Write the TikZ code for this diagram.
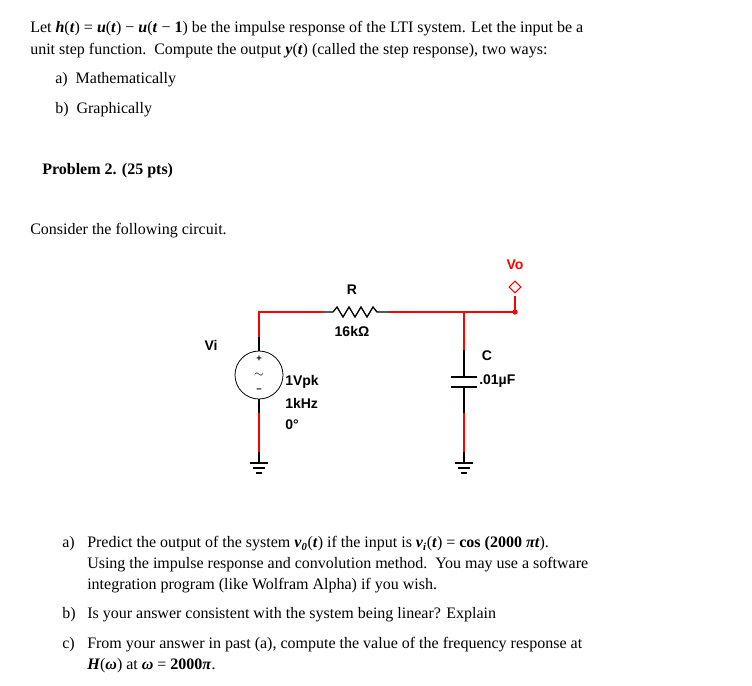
\documentclass[tikz,border=0pt]{standalone}
\usepackage{fontspec}
\usetikzlibrary{shapes.geometric}
\setmainfont{Liberation Serif}
\newfontfamily\cir{Liberation Sans}
\newcommand{\mb}[1]{\textbf{\textit{#1}}}
\begin{document}
\begin{tikzpicture}[x=0.75pt,y=-0.75pt,
  txt/.style={anchor=west,inner sep=0pt,font=\fontsize{12}{14}\selectfont},
  lab/.style={inner sep=0pt,font=\cir\bfseries\fontsize{10.5}{12}\selectfont},
  rw/.style={red,line width=1pt},
  bw/.style={black,line width=1pt}]
\useasboundingbox (0,0) rectangle (752,685);
\node[txt] (l1) at (30,29) {Let \mb{h}(\mb{t}) = \mb{u}(\mb{t}) − \mb{u}(\mb{t} − \textbf{1}) be the impulse response of the LTI system. Let the input be a};
\node[txt] (l2) at (30,51) {unit step function.\ \ Compute the output \mb{y}(\mb{t}) (called the step response), two ways:};
\node[txt] (pa) at (55,80) {a)\ \ Mathematically};
\node[txt] (pb) at (55,110) {b)\ \ Graphically};
\node[txt] (p2) at (42,171) {\textbf{Problem 2. (25 pts)}};
\node[txt] (cf) at (30,231) {Consider the following circuit.};
\node[txt] (qa) at (62,544) {a)};
\node[txt] (qa1) at (87,544) {Predict the output of the system \mb{v}\textsubscript{\mb{0}}(\mb{t}) if the input is \mb{v}\textsubscript{\mb{i}}(\mb{t}) = \textbf{cos (2000} \mb{πt}).};
\node[txt] (qa2) at (87,565) {Using the impulse response and convolution method.\ \ You may use a software};
\node[txt] (qa3) at (87,586) {integration program (like Wolfram Alpha) if you wish.};
\node[txt] (qb) at (62,615) {b)};
\node[txt] (qb1) at (87,615) {Is your answer consistent with the system being linear? Explain};
\node[txt] (qc) at (62,645) {c)};
\node[txt] (qc1) at (87,645) {From your answer in past (a), compute the value of the frequency response at};
\node[txt] (qc2) at (87,666) {\mb{H}(\mb{ω}) at \mb{ω} = \textbf{2000}\mb{π}.};
% circuit
\coordinate (tl) at (259,312);
\coordinate (r1) at (323,312);
\coordinate (r2) at (389,312);
\coordinate (cj) at (464,312);
\coordinate (oj) at (515,312);
\node[draw,circle,minimum size=36pt,inner sep=0pt,line width=0.6pt] (src) at (259,375) {};
\node[font=\small] (tilde) at (259,375) {$\sim$};
\node[lab,font=\cir\bfseries\fontsize{7}{8}\selectfont] (plus) at (259,359) {+};
\node[lab,font=\cir\bfseries\fontsize{7}{8}\selectfont] (minus) at (259,391) {−};
\draw[rw] (259,337) -- (tl) -- (r1);
\draw[bw] (src.north) -- (259,337);
\draw[bw] (r1) -- (333,312) -- (337,307) -- (343,317) -- (349,307) -- (355,317) -- (361,307) -- (367,317) -- (373,307) -- (377,312) -- (r2);
\draw[rw] (r2) -- (cj) -- (oj) -- (515,296);
\fill[red] (oj) circle (2pt);
\node[draw=red,diamond,aspect=1,minimum size=9pt,inner sep=0pt,line width=0.8pt,fill=white] (vo) at (515,287) {};
\draw[bw] (src.south) -- (259,413);
\draw[rw] (259,413) -- (259,452);
\draw[bw] (259,452) -- (259,463);
\draw[rw] (cj) -- (464,350);
\draw[bw] (464,350) -- (464,377);
\draw[bw,line width=1.8pt] (451,377) -- (477,377);
\draw[bw,line width=1.8pt] (451,387) -- (477,387);
\draw[bw] (464,387) -- (464,413);
\draw[rw] (464,413) -- (464,452);
\draw[bw] (464,452) -- (464,463);
\foreach \x in {259,464}{
  \draw[bw,line width=0.8pt] (\x-9,463) -- (\x+9,463);
  \draw[bw,line width=0.8pt] (\x-6,468) -- (\x+6,468);
  \draw[bw,line width=0.8pt] (\x-3,473) -- (\x+3,473);
}
\node[lab,red] (vol) at (515,265) {Vo};
\node[lab] (rl) at (352,290) {R};
\node[lab] (rv) at (352,331) {16kΩ};
\node[lab] (vil) at (211,345) {Vi};
\node[lab] (cl) at (487,356) {C};
\node[lab,anchor=west] (cv) at (479,381) {.01µF};
\node[lab,anchor=west] (s1) at (285,382) {1Vpk};
\node[lab,anchor=west] (s2) at (285,403) {1kHz};
\node[lab,anchor=west] (s3) at (285,425) {0°};
\end{tikzpicture}
\end{document}
